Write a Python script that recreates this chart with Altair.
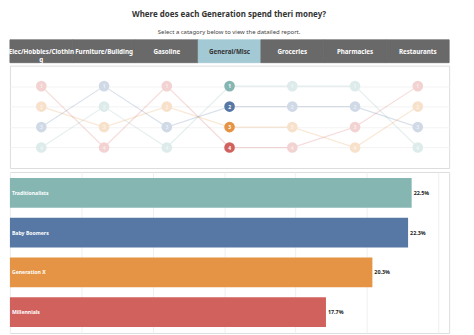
import altair as alt
import pandas as pd

categories = ["Elec/Hobbies/Clothing", "Furniture/Building", "Gasoline", "General/Misc",
              "Groceries", "Pharmacies", "Restaurants"]
header_labels = ["Elec/Hobbies/Clothin\ng", "Furniture/Building", "Gasoline", "General/Misc",
                 "Groceries", "Pharmacies", "Restaurants"]
selected = "General/Misc"

generations = ["Traditionalists", "Baby Boomers", "Generation X", "Millennials"]
gen_colors = ["#85b6b2", "#5778a4", "#e49444", "#d1615d"]

# rank of each generation in each category (1 = top)
ranks = {
    "Traditionalists": [4, 2, 4, 1, 1, 1, 4],
    "Baby Boomers":    [3, 1, 3, 2, 2, 2, 3],
    "Generation X":    [2, 3, 2, 3, 3, 4, 2],
    "Millennials":     [1, 4, 1, 4, 4, 3, 1],
}

share_pct = [22.5, 22.3, 20.3, 17.7]

FONT = "Noto Sans"
W = 442

# ---------- header ----------
hdr = pd.DataFrame({
    "category": categories,
    "label": header_labels,
    "sel": ["yes" if c == selected else "no" for c in categories],
})
is_sel = alt.datum.sel == "yes"
hx = alt.X("category:N", sort=categories, axis=None,
           scale=alt.Scale(paddingInner=0, paddingOuter=0))
hcol = alt.condition(is_sel, alt.value("#a3c9d5"), alt.value("#696969"))
header_rect = alt.Chart(hdr).mark_rect(strokeWidth=0.8).encode(
    x=hx, color=hcol, stroke=hcol,
)
header_text = alt.Chart(hdr).mark_text(fontSize=6.3, fontWeight="bold", font=FONT,
                                       lineBreak="\n", lineHeight=8.5).encode(
    x=alt.X("category:N", sort=categories, axis=None, bandPosition=0.5,
            scale=alt.Scale(paddingInner=0, paddingOuter=0)),
    y=alt.value(12),
    text="label:N",
    color=alt.condition(is_sel, alt.value("#333333"), alt.value("#ffffff")),
)
header = alt.layer(header_rect, header_text).properties(
    width=W, height=23, view=alt.ViewBackground(stroke="transparent"))

# ---------- bump chart ----------
rows = []
for g in generations:
    for i, c in enumerate(categories):
        rows.append({"generation": g, "category": c, "ci": i, "rank": ranks[g][i],
                     "sel": "yes" if c == selected else "no"})
bump_df = pd.DataFrame(rows)

bx = alt.X("category:N", sort=categories, axis=None, scale=alt.Scale(type="point", padding=0.5))
by = alt.Y("rank:Q", scale=alt.Scale(domain=[0, 5], reverse=True),
           axis=alt.Axis(values=[1, 2, 3, 4], labels=False, ticks=False, domain=False,
                         title=None, grid=True, gridColor="#f3f3f3"))
gcolor = alt.Color("generation:N", scale=alt.Scale(domain=generations, range=gen_colors), legend=None)

base = alt.Chart(bump_df)
lines = base.mark_line(strokeWidth=1.2, opacity=0.22).encode(
    x=bx, y=by, color=gcolor, detail="generation:N", order="ci:Q")
under = base.mark_circle(size=115, opacity=1, color="white").encode(x=bx, y=by)
dots = base.mark_circle(size=115).encode(
    x=bx, y=by, color=gcolor,
    opacity=alt.condition(is_sel, alt.value(1.0), alt.value(0.28)),
)
nums = base.mark_text(fontSize=5, fontWeight="bold", color="white", font=FONT).encode(
    x=bx, y=by, text="rank:Q",
    opacity=alt.condition(is_sel, alt.value(1.0), alt.value(0.6)))
bump = alt.layer(lines, under, dots, nums).properties(width=W, height=103)

# ---------- bar chart ----------
bar_df = pd.DataFrame({"generation": generations, "share": share_pct})
bar_df["label"] = bar_df["share"].map(lambda v: f"{v:.1f}%")
yb = alt.Y("generation:N", sort=generations, axis=None,
           scale=alt.Scale(paddingInner=0.25, paddingOuter=0.15))
xb = alt.X("share:Q", scale=alt.Scale(domain=[0, 24.6], nice=False),
           axis=alt.Axis(values=list(range(0, 25)), labels=False, ticks=False, domain=False,
                         title=None, grid=True, gridColor="#f0f0f0"))
bbase = alt.Chart(bar_df)
bars = bbase.mark_bar().encode(x=xb, y=yb, color=gcolor)
inner = bbase.mark_text(align="left", dx=2, fontSize=5.2, fontWeight="bold", color="white",
                        font=FONT).encode(x=alt.datum(0), y=yb, text="generation:N")
vals = bbase.mark_text(align="left", dx=2, fontSize=5.4, fontWeight="bold", color="#222222",
                       font=FONT).encode(x=xb, y=yb, text="label:N")
barchart = alt.layer(bars, inner, vals).properties(width=W, height=162)

top = alt.vconcat(header, bump, spacing=0)
chart = alt.vconcat(top, barchart, spacing=2).properties(
    title=alt.TitleParams(
        "Where does each Generation spend theri money?",
        subtitle="Select a catagory below to view the datailed report.",
        anchor="middle", fontSize=8, font=FONT, fontWeight="bold", color="#333333",
        subtitleFontSize=6, subtitleFont=FONT, subtitleColor="#444444",
        subtitlePadding=10, offset=4,
    ),
    padding={"left": 8, "top": 10, "right": 24, "bottom": 3},
).configure_view(stroke="#e2e2e2").configure(background="white")

chart.save("out.html", embed_options={"renderer": "svg", "actions": False})
